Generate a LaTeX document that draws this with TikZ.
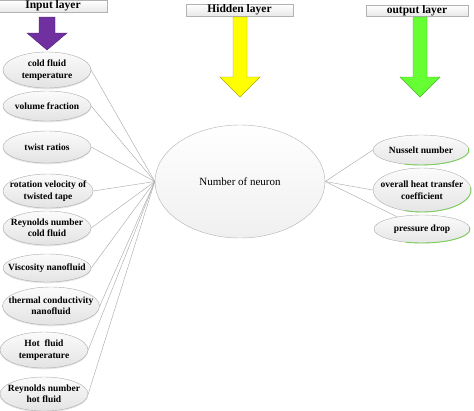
\documentclass[tikz,border=0pt]{standalone}
\usepackage{fontspec}
\setmainfont{Liberation Serif}
\usetikzlibrary{shapes.geometric,shadows}
\definecolor{purplearrow}{HTML}{7030A0}
\definecolor{purpleedge}{HTML}{4E1F73}
\definecolor{yellowarrow}{HTML}{FFFF00}
\definecolor{yellowedge}{HTML}{A6A600}
\definecolor{greenarrow}{HTML}{66FF33}
\definecolor{greenedge}{HTML}{44B022}
\definecolor{rimgreen}{HTML}{7BCF5A}
\begin{document}
\begin{tikzpicture}[x=1pt,y=-1pt,
  inp/.style={ellipse, draw=gray!65, top color=gray!3, bottom color=gray!22,
    inner sep=0pt, drop shadow={shadow xshift=0pt,shadow yshift=-1.3pt,opacity=0.2}},
  outp/.style={ellipse, draw=gray!65, top color=gray!3, bottom color=gray!20, inner sep=0pt},
  lbl/.style={align=center, font=\fontsize{9.5}{11.5}\selectfont\bfseries, inner sep=0pt},
  hub/.style={ellipse, draw=gray!60, top color=white, bottom color=gray!12,
    minimum width=170pt, minimum height=113pt, inner sep=0pt,
    font=\fontsize{11}{13}\selectfont},
  header/.style={rectangle, draw=gray!60, top color=white, bottom color=gray!18,
    inner sep=0pt, font=\fontsize{11.5}{13}\selectfont\bfseries},
  conn/.style={draw=gray!65, line width=0.45pt},
  rim/.style={draw=rimgreen, line width=0.9pt}
]
\useasboundingbox (0,0) rectangle (474,410);

% headers
\node[header, minimum width=108pt, minimum height=12pt] (hin) at (53,6.2) {Input layer};
\node[header, minimum width=107pt, minimum height=12pt] (hhid) at (239.5,10) {Hidden layer};
\node[header, minimum width=102pt, minimum height=11pt] (hout) at (417,10.5) {output layer};

% big arrows
\draw[fill=purplearrow, draw=purpleedge, line width=0.4pt]
  (39,17) -- (55,17) -- (55,33) -- (67,33) -- (47,50) -- (27,33) -- (39,33) -- cycle;
\draw[fill=yellowarrow, draw=yellowedge, line width=0.4pt]
  (233,17) -- (247,17) -- (247,77) -- (260,77) -- (240,97) -- (220,77) -- (233,77) -- cycle;
\draw[fill=greenarrow, draw=greenedge, line width=0.4pt]
  (413,17) -- (427,17) -- (427,77) -- (440,77) -- (420,97) -- (400,77) -- (413,77) -- cycle;

% input ellipses
\node[inp, minimum width=88pt, minimum height=36pt, label={[lbl]center:cold fluid\\temperature}] (i1) at (47,70) {};
\node[inp, minimum width=88pt, minimum height=30pt, label={[lbl]center:volume fraction}] (i2) at (47,106) {};
\node[inp, minimum width=88pt, minimum height=32pt, label={[lbl]center:twist ratios}] (i3) at (47,147) {};
\node[inp, minimum width=90pt, minimum height=34pt, label={[lbl]center:rotation velocity of\\twisted tape}] (i4) at (48,191) {};
\node[inp, minimum width=88pt, minimum height=34pt, label={[lbl]center:Reynolds number\\cold fluid}] (i5) at (47,228) {};
\node[inp, minimum width=88pt, minimum height=28pt, label={[lbl]center:Viscosity nanofluid}] (i6) at (47,268) {};
\node[inp, minimum width=97pt, minimum height=38pt, label={[lbl]center:thermal conductivity\\nanofluid}] (i7) at (51,306) {};
\node[inp, minimum width=88pt, minimum height=36pt, label={[lbl]center:Hot\ \ fluid\\temperature}] (i8) at (44,350) {};
\node[inp, minimum width=88pt, minimum height=34pt, label={[lbl]center:Reynolds number\\hot fluid}] (i9) at (44,394) {};

% hidden
\node[hub] (hid) at (240,181.5) {Number of neuron};

% outputs
\node[outp, minimum width=96pt, minimum height=30pt, label={[lbl]center:Nusselt number}] (o1) at (421,150) {};
\node[outp, minimum width=98pt, minimum height=44pt, label={[lbl]center:overall heat transfer\\coefficient}] (o2) at (422,190) {};
\node[outp, minimum width=96pt, minimum height=28pt, label={[lbl]center:pressure drop}] (o3) at (422,229) {};

% green rims on outputs
\draw[rim] (o1.center) ++(250:48pt and 15pt) arc[start angle=250, end angle=368, x radius=48pt, y radius=15pt];
\draw[rim] (o2.center) ++(250:49pt and 22pt) arc[start angle=250, end angle=368, x radius=49pt, y radius=22pt];
\draw[rim] (o3.center) ++(250:48pt and 14pt) arc[start angle=250, end angle=368, x radius=48pt, y radius=14pt];

% connectors
\foreach \n in {i1,i2,i3,i4,i5,i6,i7,i8,i9}
  \draw[conn] (\n.east) -- (hid.west);
\draw[conn] (hid.east) -- (o1.west);
\draw[conn] (hid.east) -- (o2.west);
\draw[conn] (hid.east) -- (o3);
\end{tikzpicture}
\end{document}
